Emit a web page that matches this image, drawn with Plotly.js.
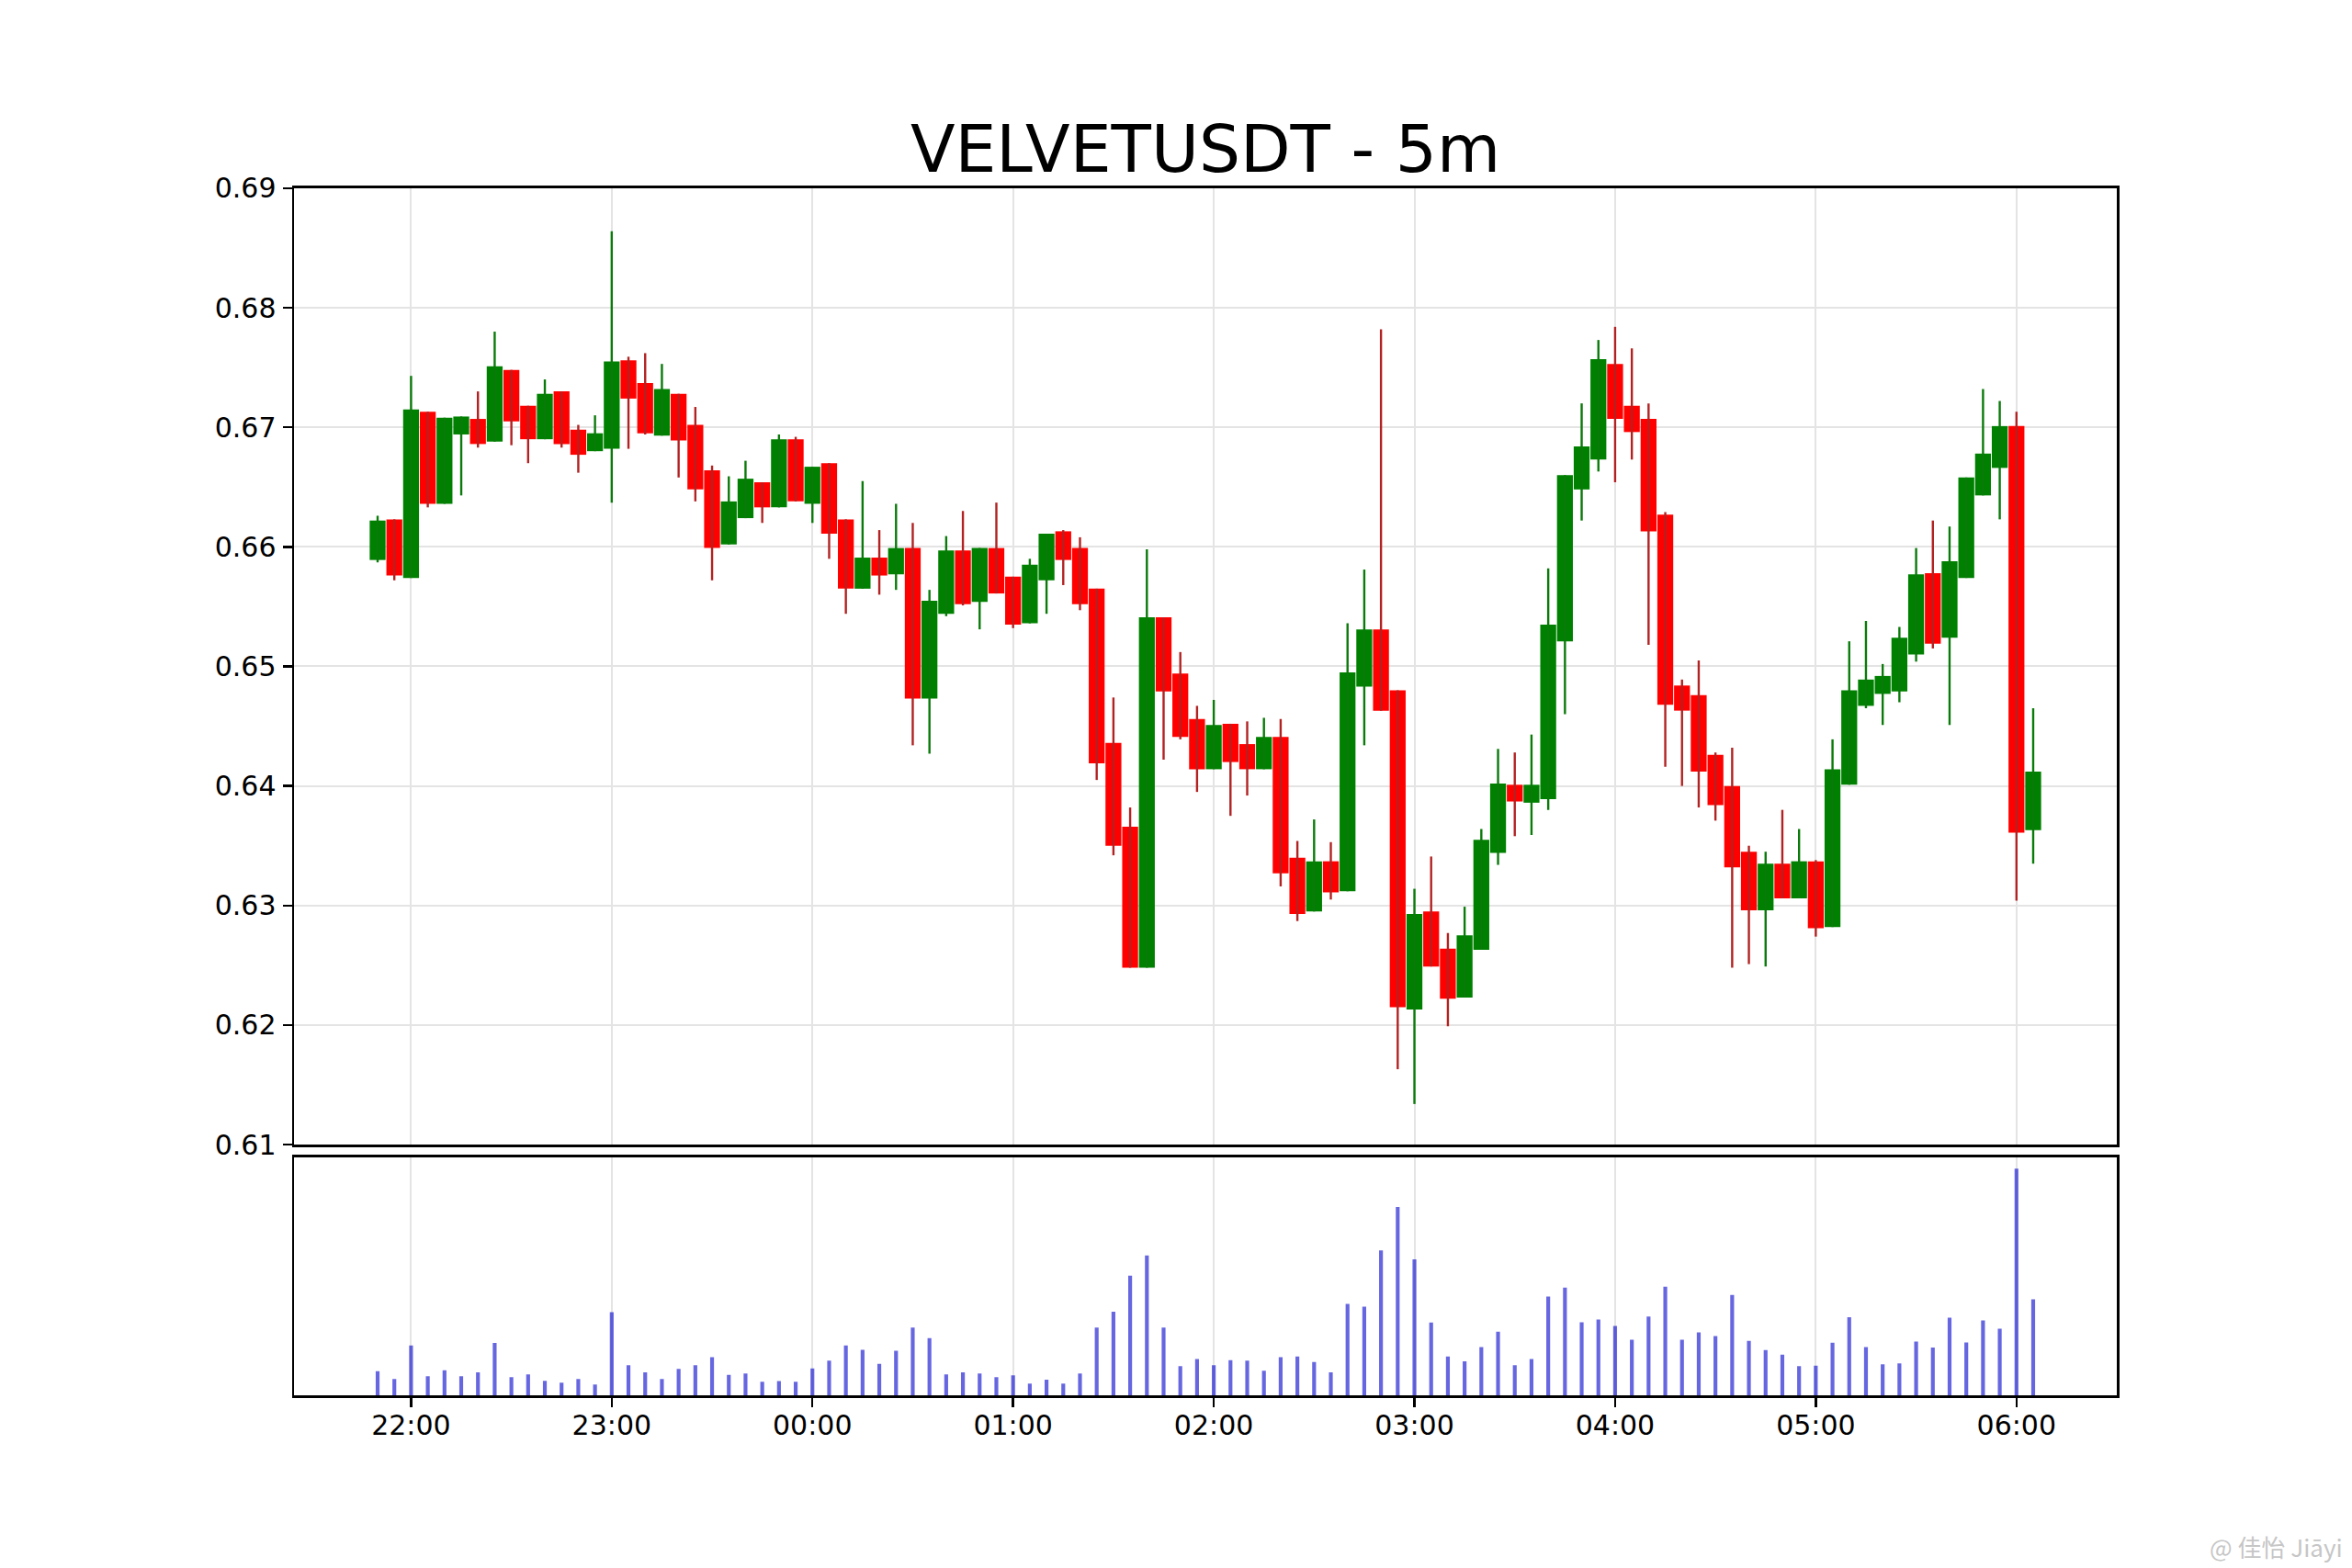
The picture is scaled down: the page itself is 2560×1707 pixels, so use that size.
<!DOCTYPE html>
<html>
<head>
<meta charset="utf-8">
<script src="https://cdn.plot.ly/plotly-3.0.1.min.js"></script>
<style>html,body{margin:0;padding:0;background:#fff;}#chart{width:2560px;height:1707px;}</style>
</head>
<body>
<div id="chart"></div>
<script>
const times = ["21:50","21:55","22:00","22:05","22:10","22:15","22:20","22:25","22:30","22:35","22:40","22:45","22:50","22:55",
"23:00","23:05","23:10","23:15","23:20","23:25","23:30","23:35","23:40","23:45","23:50","23:55",
"00:00","00:05","00:10","00:15","00:20","00:25","00:30","00:35","00:40","00:45","00:50","00:55",
"01:00","01:05","01:10","01:15","01:20","01:25","01:30","01:35","01:40","01:45","01:50","01:55",
"02:00","02:05","02:10","02:15","02:20","02:25","02:30","02:35","02:40","02:45","02:50","02:55",
"03:00","03:05","03:10","03:15","03:20","03:25","03:30","03:35","03:40","03:45","03:50","03:55",
"04:00","04:05","04:10","04:15","04:20","04:25","04:30","04:35","04:40","04:45","04:50","04:55",
"05:00","05:05","05:10","05:15","05:20","05:25","05:30","05:35","05:40","05:45","05:50","05:55",
"06:00","06:05"];

const openP = [0.6589,0.6623,0.6574,0.6713,0.6636,0.6694,0.6707,0.6688,0.6748,0.6718,0.6690,0.6730,0.6698,0.6680,
0.6682,0.6756,0.6737,0.6693,0.6728,0.6702,0.6664,0.6602,0.6624,0.6654,0.6633,0.6690,
0.6636,0.6670,0.6623,0.6565,0.6591,0.6577,0.6599,0.6473,0.6544,0.6597,0.6554,0.6599,
0.6575,0.6536,0.6572,0.6613,0.6599,0.6565,0.6436,0.6366,0.6248,0.6541,0.6494,0.6456,
0.6414,0.6452,0.6435,0.6414,0.6441,0.6340,0.6295,0.6337,0.6312,0.6483,0.6531,0.6480,
0.6213,0.6295,0.6264,0.6223,0.6263,0.6344,0.6401,0.6386,0.6389,0.6521,0.6648,0.6673,
0.6753,0.6718,0.6707,0.6627,0.6484,0.6476,0.6426,0.6400,0.6345,0.6296,0.6335,0.6306,
0.6337,0.6282,0.6401,0.6467,0.6477,0.6479,0.6510,0.6578,0.6524,0.6574,0.6643,0.6666,
0.6701,0.6363];

const highP = [0.6626,0.6623,0.6743,0.6713,0.6708,0.6709,0.6730,0.6780,0.6748,0.6718,0.6740,0.6730,0.6702,0.6710,
0.6864,0.6759,0.6762,0.6753,0.6728,0.6717,0.6668,0.6659,0.6672,0.6654,0.6694,0.6692,
0.6667,0.6670,0.6623,0.6655,0.6614,0.6636,0.6620,0.6564,0.6609,0.6630,0.6599,0.6637,
0.6575,0.6590,0.6611,0.6614,0.6608,0.6565,0.6474,0.6382,0.6598,0.6541,0.6512,0.6467,
0.6472,0.6452,0.6454,0.6457,0.6456,0.6354,0.6372,0.6353,0.6536,0.6581,0.6782,0.6480,
0.6314,0.6341,0.6277,0.6299,0.6364,0.6431,0.6428,0.6443,0.6582,0.6660,0.6720,0.6773,
0.6784,0.6766,0.6720,0.6629,0.6489,0.6505,0.6428,0.6432,0.6350,0.6345,0.6380,0.6364,
0.6338,0.6439,0.6521,0.6538,0.6502,0.6533,0.6599,0.6622,0.6617,0.6658,0.6732,0.6722,
0.6713,0.6465];

const lowP = [0.6587,0.6572,0.6574,0.6633,0.6636,0.6643,0.6683,0.6688,0.6685,0.6670,0.6690,0.6683,0.6662,0.6680,
0.6637,0.6682,0.6694,0.6693,0.6658,0.6638,0.6572,0.6602,0.6624,0.6620,0.6633,0.6638,
0.6620,0.6590,0.6544,0.6565,0.6560,0.6564,0.6434,0.6427,0.6542,0.6551,0.6531,0.6561,
0.6532,0.6536,0.6544,0.6568,0.6547,0.6405,0.6342,0.6248,0.6248,0.6422,0.6439,0.6395,
0.6414,0.6375,0.6392,0.6414,0.6316,0.6287,0.6295,0.6305,0.6312,0.6434,0.6463,0.6163,
0.6134,0.6249,0.6199,0.6223,0.6263,0.6334,0.6358,0.6359,0.6380,0.6460,0.6622,0.6663,
0.6654,0.6673,0.6518,0.6416,0.6400,0.6382,0.6371,0.6248,0.6251,0.6249,0.6306,0.6306,
0.6274,0.6282,0.6401,0.6465,0.6451,0.6470,0.6504,0.6515,0.6451,0.6574,0.6643,0.6623,
0.6304,0.6335];

const closeP = [0.6622,0.6576,0.6715,0.6636,0.6708,0.6709,0.6686,0.6751,0.6705,0.6690,0.6728,0.6686,0.6677,0.6695,
0.6755,0.6724,0.6695,0.6732,0.6689,0.6648,0.6599,0.6638,0.6657,0.6633,0.6690,0.6638,
0.6667,0.6611,0.6565,0.6591,0.6576,0.6599,0.6473,0.6555,0.6597,0.6552,0.6599,0.6561,
0.6535,0.6585,0.6611,0.6589,0.6552,0.6419,0.6350,0.6248,0.6541,0.6479,0.6441,0.6414,
0.6451,0.6420,0.6414,0.6441,0.6327,0.6293,0.6337,0.6311,0.6495,0.6531,0.6463,0.6215,
0.6293,0.6249,0.6222,0.6275,0.6355,0.6402,0.6387,0.6401,0.6535,0.6660,0.6684,0.6757,
0.6707,0.6696,0.6613,0.6468,0.6463,0.6412,0.6384,0.6332,0.6296,0.6335,0.6306,0.6337,
0.6281,0.6414,0.6480,0.6489,0.6492,0.6524,0.6577,0.6519,0.6588,0.6658,0.6678,0.6701,
0.6361,0.6412];

const volume = [80,54,164,63,83,63,76,172,60,69,48,42,54,36,
273,99,76,54,87,99,126,68,72,45,47,45,
89,114,164,150,104,147,223,188,69,76,72,60,
66,39,52,39,72,223,275,393,459,223,96,120,
99,116,114,81,126,128,110,76,300,291,476,618,
446,239,128,112,159,209,99,120,324,354,240,249,
228,183,259,357,183,207,195,330,179,149,134,96,
98,173,257,159,102,105,177,157,255,174,246,219,
744,315];

const titleText = "VELVETUSDT - 5m";
const priceTicks = [0.61,0.62,0.63,0.64,0.65,0.66,0.67,0.68,0.69];

// map clock labels to datetimes (session crosses midnight)
const xs = times.map(t => (t >= "12:00" ? "2024-01-01 " : "2024-01-02 ") + t);

const up = closeP.map((c,i) => c >= openP[i]);
const bodyBase = openP.map((o,i) => Math.min(o, closeP[i]));
const bodyLen = openP.map((o,i) => Math.max(Math.abs(closeP[i]-o), 0.00004));
const bodyCol = up.map(u => u ? "#008000" : "#ff0000");

function wicks(flag){
  const wx=[], wy=[];
  xs.forEach((x,i)=>{ if(up[i]===flag){ wx.push(x,x,null); wy.push(lowP[i],highP[i],null);} });
  return {x:wx,y:wy};
}
const wu = wicks(true), wd = wicks(false);

const FIVE_MIN = 300000;

const traces = [
  {type:"scatter", mode:"lines", x:wu.x, y:wu.y, xaxis:"x", yaxis:"y",
   line:{color:"#0a7a0a", width:2.4}, hoverinfo:"skip", showlegend:false},
  {type:"scatter", mode:"lines", x:wd.x, y:wd.y, xaxis:"x", yaxis:"y",
   line:{color:"#b22222", width:2.4}, hoverinfo:"skip", showlegend:false},
  {type:"bar", x:xs, y:bodyLen, base:bodyBase, xaxis:"x", yaxis:"y",
   width:FIVE_MIN*0.95, marker:{color:bodyCol, line:{width:0}}, showlegend:false},
  {type:"bar", x:xs, y:volume, xaxis:"x2", yaxis:"y2",
   width:69000, marker:{color:"rgba(0,0,205,0.6)", line:{width:0}}, showlegend:false}
];

const xr = ["2024-01-01 21:25:00", "2024-01-02 06:30:00"];
const gridC = "#e4e4e4";
const font = {family:"DejaVu Sans", size:30, color:"#000"};

const layout = {
  width:2560, height:1707,
  margin:{l:0,r:0,t:0,b:0},
  paper_bgcolor:"#fff", plot_bgcolor:"#fff",
  barmode:"overlay",
  showlegend:false,
  font:font,
  title:{text:titleText, font:{family:"DejaVu Sans", size:71, color:"#000"},
         x:0.5125, xanchor:"center", xref:"paper", y:0.905, yref:"container", yanchor:"middle"},
  xaxis:{domain:[0.125,0.9], anchor:"y", type:"date", range:xr,
         tick0:"2024-01-01 22:00", dtick:3600000, showticklabels:false, ticks:"",
         showgrid:true, gridcolor:gridC, gridwidth:2,
         showline:true, mirror:true, linecolor:"#000", linewidth:2.5, zeroline:false},
  yaxis:{domain:[0.27,0.88], anchor:"x", range:[0.61,0.69], tickvals:priceTicks,
         tickformat:".2f", ticks:"outside", ticklen:10, tickwidth:2.4, tickcolor:"#000",
         ticklabelstandoff:1,
         showgrid:true, gridcolor:gridC, gridwidth:2,
         showline:true, mirror:true, linecolor:"#000", linewidth:2.5, zeroline:false,
         tickfont:font},
  xaxis2:{domain:[0.125,0.9], anchor:"y2", type:"date", range:xr, matches:"x",
         tick0:"2024-01-01 22:00", dtick:3600000, tickformat:"%H:%M",
         ticks:"outside", ticklen:10, tickwidth:2.4, tickcolor:"#000", ticklabelstandoff:-6,
         showgrid:true, gridcolor:gridC, gridwidth:2,
         showline:true, mirror:true, linecolor:"#000", linewidth:2.5, zeroline:false,
         tickfont:font},
  yaxis2:{domain:[0.11,0.262], anchor:"x2", range:[0, 744*1.05],
         showticklabels:false, ticks:"", showgrid:false,
         showline:true, mirror:true, linecolor:"#000", linewidth:2.5, zeroline:false},
  annotations:[
    {text:"@ 佳怡 Jiāyi", xref:"paper", yref:"paper", x:0.997, y:0.014,
     xanchor:"right", yanchor:"middle", showarrow:false,
     font:{family:"Noto Sans CJK SC", size:26, color:"#c6c6c6"}}
  ]
};

Plotly.newPlot("chart", traces, layout, {staticPlot:true, displayModeBar:false});
</script>
</body>
</html>
